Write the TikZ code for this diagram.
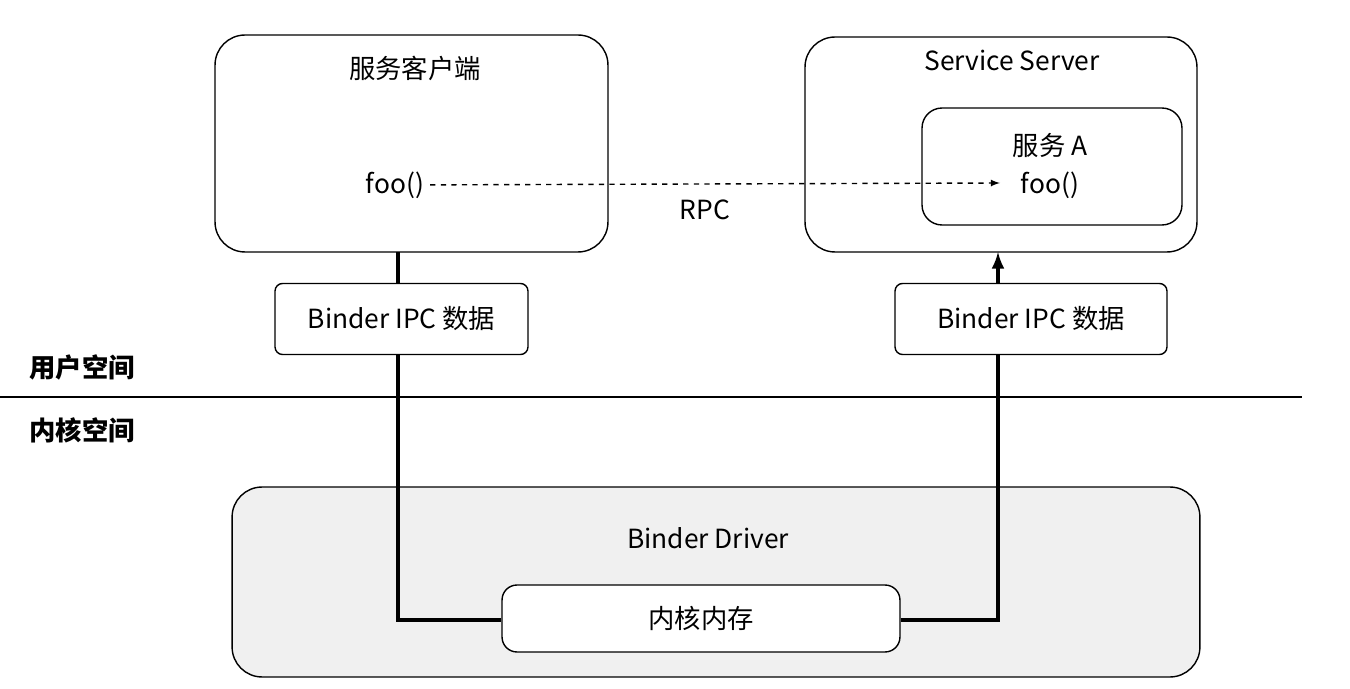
\documentclass[tikz,border=0pt]{standalone}
\usepackage{fontspec}
\setmainfont{Noto Sans CJK SC}
\usetikzlibrary{positioning}
\tikzstyle{box} = [draw, thick, rounded corners=0.6cm, inner sep=0pt]
\tikzstyle{tag} = [draw, thick, fill=white, rounded corners=0.15cm,
    minimum height=1.42cm]
\tikzstyle{txt} = [font=\fontsize{15}{18}\selectfont]
\tikzstyle{wire} = [line width=2.2pt]
\begin{document}
\begin{tikzpicture}[x=0.02cm,y=-0.02cm]
    \useasboundingbox (0,0) rectangle (1350,689);
    % user space boxes
    \node (client) [box, minimum width=7.86cm, minimum height=4.34cm] at (411.5,143.5) {};
    \node [txt] at (415,68) {服务客户端};
    \node (foo1) [txt] at (395,185) {foo()};
    \node (server) [box, minimum width=7.84cm, minimum height=4.3cm] at (1001,144.5) {};
    \node [txt] at (1012,60) {Service Server};
    \node (svcA) [box, rounded corners=0.4cm, minimum width=5.2cm, minimum height=2.34cm] at (1052,166.5) {};
    \node [txt] at (1050,145) {服务 A};
    \node (foo2) [txt] at (1050,185) {foo()};
    \coordinate (rpcend) at (1000,183);
    \draw [thick, dashed, -latex] (foo1) -- (rpcend);
    \node [txt] at (705,210) {RPC};
    \node (ipca) [tag, txt, minimum width=5.06cm] at (401.5,319) {Binder IPC 数据};
    \node (ipcb) [tag, txt, minimum width=5.44cm] at (1031,319) {Binder IPC 数据};
    % split line
    \coordinate (la) at (0,397);
    \coordinate (lb) at (1302,397);
    \draw [thick] (la) -- (lb);
    \node [txt, font=\bfseries\fontsize{15}{18}\selectfont] at (82,367) {用户空间};
    \node [txt, font=\bfseries\fontsize{15}{18}\selectfont] at (82,430) {内核空间};
    % kernel
    \node (driver) [box, fill=gray!12, minimum width=19.36cm, minimum height=3.8cm] at (716,582) {};
    \node [txt] at (708,538) {Binder Driver};
    \node (kmem) [box, fill=white, rounded corners=0.3cm, minimum width=7.96cm, minimum height=1.34cm] at (701,618.5) {};
    \node [txt] at (701,618) {内核内存};
    \coordinate (ca) at (398,252);
    \coordinate (cb) at (398,620);
    \coordinate (sa) at (998,620);
    \coordinate (sb) at (998,252);
    \draw [wire] (ca) -- (ipca.north -| ca);
    \draw [wire] (ipca.south -| ca) -- (cb) -- (kmem.west |- cb);
    \draw [wire] (kmem.east |- sa) -- (sa) -- (ipcb.south -| sa);
    \draw [wire, -latex] (ipcb.north -| sb) -- (sb);
\end{tikzpicture}
\end{document}
